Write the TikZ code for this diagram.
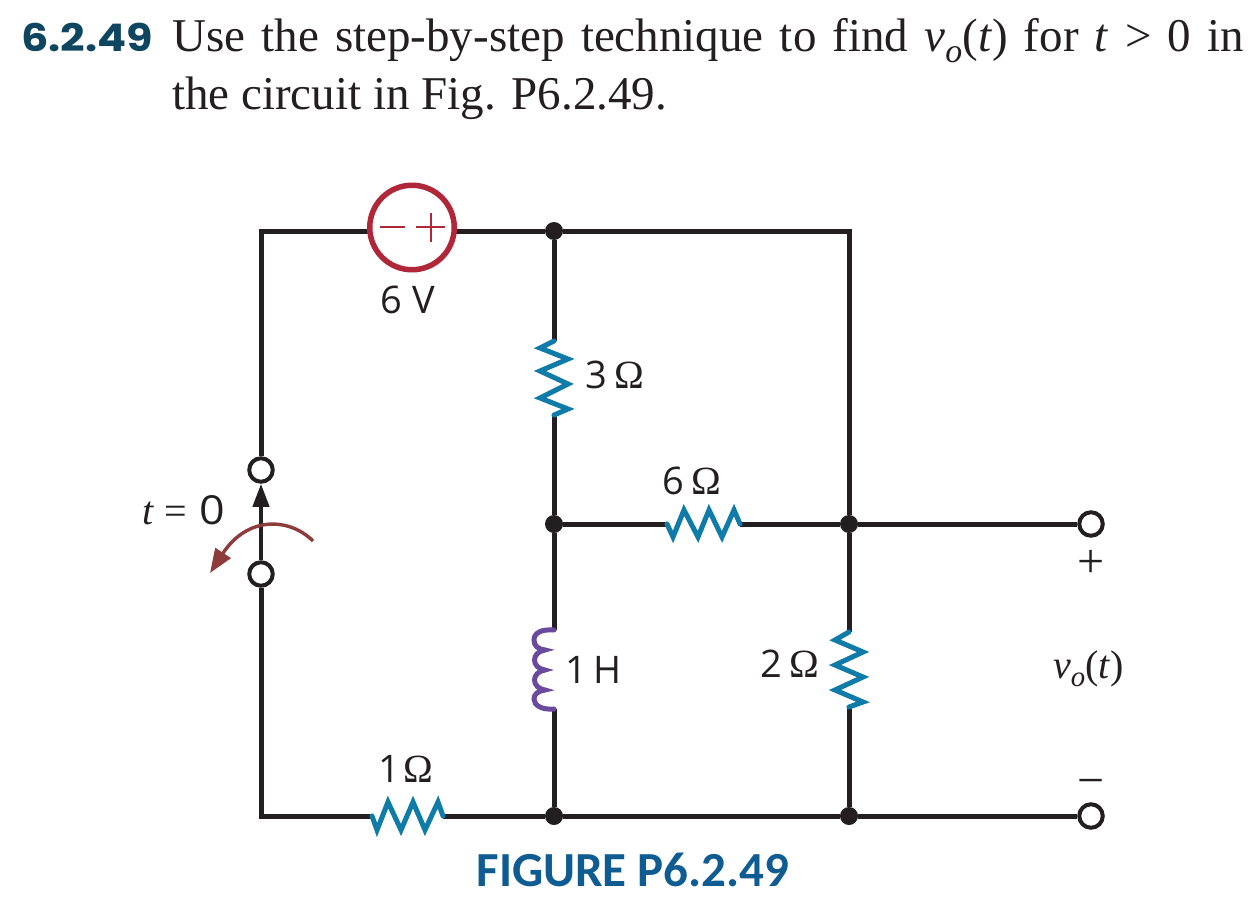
\documentclass[tikz,border=0pt]{standalone}
\usepackage{fontspec}
\setmainfont{Liberation Serif}
\newfontfamily\headf{Poppins}
\newfontfamily\labf{Open Sans}
\newfontfamily\figf{Carlito}
\usetikzlibrary{arrows.meta}
\definecolor{wirec}{HTML}{231F20}
\definecolor{srcred}{HTML}{B1273A}
\definecolor{resblue}{HTML}{0F7BA8}
\definecolor{indpur}{HTML}{6A4A9C}
\definecolor{swred}{HTML}{8E3B3B}
\definecolor{headc}{HTML}{0E4660}
\definecolor{figc}{HTML}{0F5C92}
\newcommand\vot{{\itshape v}\raisebox{-0.22em}{\scalebox{0.72}{\itshape o}}(\textit{t})}
\newcommand\ohmlab[2]{{\labf\fontsize{38}{38}\selectfont #1}\hspace{#2}{\fontsize{40}{40}\selectfont Ω}}
\begin{document}
\begin{tikzpicture}[x=1pt,y=-1pt,
  wire/.style={draw=wirec,line width=5pt},
  dotn/.style={circle,fill=wirec,inner sep=0pt,minimum size=18pt},
  term/.style={circle,draw=wirec,fill=white,line width=4pt,inner sep=0pt,minimum size=23.5pt},
  res/.style={draw=resblue,line width=5pt,line join=miter,line cap=round},
  ind/.style={draw=indpur,line width=5pt,line cap=round},
  body/.style={anchor=base west,inner sep=0pt,font=\fontsize{47}{47}\selectfont,text=wirec},
  lab/.style={inner sep=0pt,font=\labf\fontsize{38}{38}\selectfont,text=wirec},
  ohm/.style={inner sep=0pt,anchor=base west,text=wirec}]
\useasboundingbox (0,0) rectangle (1258,923);
\fill[white] (0,0) rectangle (1258,923);
% text
\node[anchor=base west,inner sep=0pt,text=headc,font=\headf\bfseries\fontsize{38}{38}\selectfont] (num) at (21,52) {\scalebox{1.13}[1]{6.2.49}};
\node[body] (l1) at (172,52) {\spaceskip=16.2pt Use the step-by-step technique to find \vot{} for \textit{t} > 0 in};
\node[body] (l2) at (172,110) {the circuit in Fig. P6.2.49.};
% nodes
\coordinate (tl) at (261,231);
\coordinate (bl) at (261,816);
\coordinate (tr) at (849,231);
\node[dotn] (j1) at (554,231) {};
\node[dotn] (j2) at (554,524) {};
\node[dotn] (j3) at (849,524) {};
\node[dotn] (j4) at (554,816) {};
\node[dotn] (j5) at (849,816) {};
\node[term] (sw1) at (261,470) {};
\node[term] (sw2) at (261,574) {};
\node[term] (t1) at (1091,524) {};
\node[term] (t2) at (1091,816) {};
% element end points
\coordinate (srca) at (375,231);
\coordinate (srcb) at (450,231);
\coordinate (r3a) at (554,341);
\coordinate (r3b) at (554,415);
\coordinate (r2a) at (849,632);
\coordinate (r2b) at (849,707);
\coordinate (la) at (554,630);
\coordinate (lb) at (554,709);
\coordinate (r6a) at (667,524);
\coordinate (r6b) at (740,524);
\coordinate (r1a) at (372,816);
\coordinate (r1b) at (443,816);
% wires
\draw[wire] (sw1) -- (tl) -- (srca);
\draw[wire] (srcb) -- (j1);
\draw[wire] (j1) -- (tr) -- (j3);
\draw[wire] (j1) -- (r3a);
\draw[wire] (r3b) -- (j2);
\draw[wire] (j2) -- (la);
\draw[wire] (lb) -- (j4);
\draw[wire] (j2) -- (r6a);
\draw[wire] (r6b) -- (j3);
\draw[wire] (j3) -- (t1);
\draw[wire] (j3) -- (r2a);
\draw[wire] (r2b) -- (j5);
\draw[wire] (sw2) -- (bl) -- (r1a);
\draw[wire] (r1b) -- (j4);
\draw[wire] (j4) -- (j5);
\draw[wire] (j5) -- (t2);
% source on top of the wire
\node[circle,draw=srcred,line width=5.5pt,fill=white,inner sep=0pt,minimum size=84.5pt] (src) at (412,227.5) {};
\draw[srcred,line width=1.6pt] (380,227) -- (405,227);
\draw[srcred,line width=1.6pt] (416,227) -- (445,227) (431,213) -- (431,242);
% resistors
\draw[res] (r3a) -- ++(-14,7) -- ++(28,11) -- ++(-28,12) -- ++(28,13) -- ++(-28,14) -- ++(28,11) -- (r3b);
\draw[res] (r2a) -- ++(-14,8) -- ++(28,12) -- ++(-28,13) -- ++(28,12) -- ++(-28,13) -- ++(28,12) -- (r2b);
\draw[res] (r6a) -- (673,537) -- (684,510) -- (698,537) -- (709,510) -- (722,537) -- (734,510) -- (r6b);
\draw[res] (r1a) -- (377,830) -- (388,802) -- (401,830) -- (413,802) -- (425,830) -- (438,802) -- (r1b);
% inductor
\draw[ind] (la) .. controls (541,629) and (534,633) .. (534,640) .. controls (534,646) and (538,649) .. (545,650)
  .. controls (531,652) and (531,668) .. (545,670)
  .. controls (531,672) and (531,688) .. (545,690)
  .. controls (538,691) and (534,694) .. (534,699) .. controls (534,705) and (541,710) .. (lb);
% switch
\draw[wirec,line width=4pt,-{Triangle[length=23pt,width=16pt]}] (sw2) -- (sw1);
\draw[swred,line width=3.4pt,-{Triangle[length=24pt,width=18pt]}] (313,541) .. controls (290,518) and (248,515) .. (210,573);
% labels
\node[inner sep=0pt,anchor=base west,font=\fontsize{40}{40}\selectfont,text=wirec] (tlab) at (142,524) {\textit{t}\hspace{10pt}=\hspace{13pt}{\labf\scalebox{1.12}[1]{0}}};
\node[lab] (v6) at (408,300) {6 V};
\node[ohm] (o3) at (585,388) {\ohmlab{3}{8pt}};
\node[lab,anchor=west] (h1) at (565,670) {1\,H};
\node[ohm] (o6) at (662,494) {\ohmlab{6}{8pt}};
\node[ohm] (o2) at (760,677) {\ohmlab{2}{8pt}};
\node[ohm] (o1) at (378,782) {\ohmlab{1}{4pt}};
\node[inner sep=0pt,anchor=base west,font=\fontsize{40}{40}\selectfont,text=wirec] (vo) at (1053,678) {\vot};
\node[inner sep=0pt,font=\fontsize{48}{48}\selectfont,text=wirec] (pl) at (1091,564) {+};
\node[inner sep=0pt,font=\fontsize{48}{48}\selectfont,text=wirec] (mi) at (1091,788) {\char"2212};
\node[inner sep=0pt,text=figc,font=\figf\bfseries\fontsize{49}{49}\selectfont] (fig) at (633,870) {FIGURE P6.2.49};
\end{tikzpicture}
\end{document}
